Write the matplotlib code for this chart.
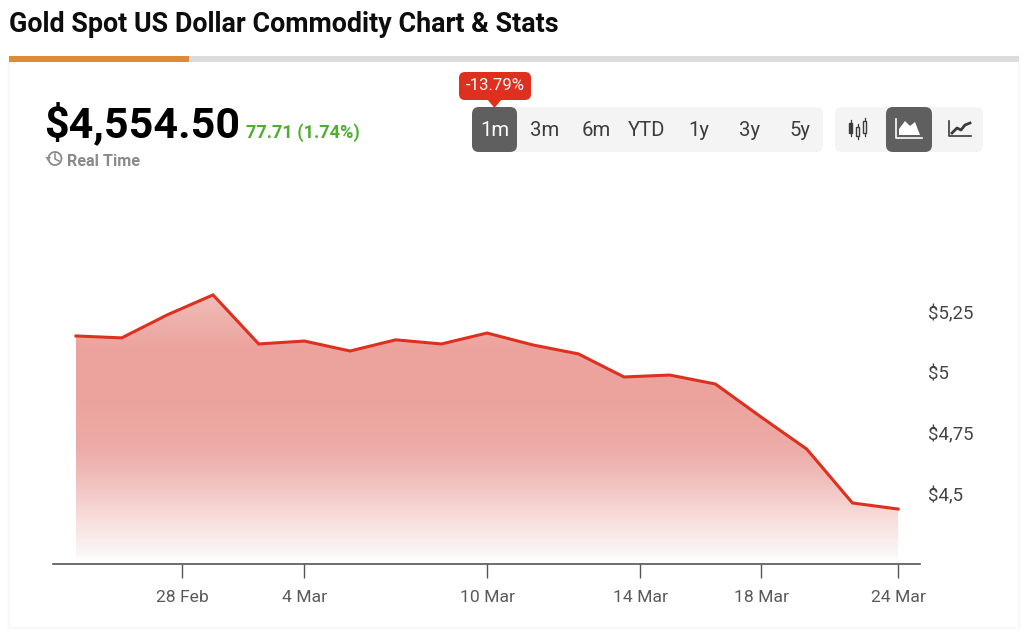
import numpy as np
import matplotlib
matplotlib.use("Agg")
import matplotlib.pyplot as plt
from matplotlib.colors import LinearSegmentedColormap
from matplotlib.patches import FancyBboxPatch, Rectangle, Polygon, Arc

plt.rcParams['font.family'] = ['Roboto', 'DejaVu Sans']

# values (in thousands of dollars)
prices = [5.151, 5.143, 5.238, 5.320, 5.118, 5.130, 5.089, 5.135, 5.118, 5.163,
          5.114, 5.077, 4.982, 4.990, 4.953, 4.817, 4.685, 4.463, 4.438]
date_ticks = [2.32, 5, 9, 12.35, 15, 18]
date_labels = ['28 Feb', '4 Mar', '10 Mar', '14 Mar', '18 Mar', '24 Mar']
price_ticks = [4.5, 4.75, 5, 5.25]
price_labels = ['$4,5', '$4,75', '$5', '$5,25']
ranges = ['1m', '3m', '6m', 'YTD', '1y', '3y', '5y']

RED = '#df2f1f'
DARK = '#5f5f5f'
ICON = '#3c3c3c'

fig = plt.figure(figsize=(10.24, 6.37), dpi=100, facecolor='white')

# page furniture, in pixel coordinates
ui = fig.add_axes([0, 0, 1, 1])
ui.set_xlim(0, 1024)
ui.set_ylim(637, 0)
ui.axis('off')


def rbox(x, y, w, h, color, r=7, z=2):
    ui.add_patch(FancyBboxPatch((x + r, y + r), w - 2 * r, h - 2 * r,
                                boxstyle=f'round,pad={r},rounding_size={r}',
                                fc=color, ec='none', zorder=z))


# card with soft shadow
for grow, col in [(3, '#fcfcfc'), (2, '#fafafa'), (1, '#f7f7f7')]:
    ui.add_patch(Rectangle((10 - grow, 55), 1008 + 2 * grow, 572 + grow, fc=col, ec='none', zorder=0))
ui.add_patch(Rectangle((10, 55), 1008, 572, fc='white', ec='none', zorder=1))
ui.add_patch(Rectangle((9, 56), 1010, 6, fc='#dcdcdc', ec='none', zorder=2))
ui.add_patch(Rectangle((9, 56), 180, 6, fc='#e08a33', ec='none', zorder=3))

ui.text(9, 24.5, 'Gold Spot US Dollar Commodity Chart & Stats', fontsize=19.4, fontweight='bold',
        color='#0d0d0d', va='center', ha='left')
ui.text(44, 124, '$4,554.50', fontsize=31, fontweight='bold', color='black', va='center', ha='left')
ui.text(246, 133, '77.71 (1.74%)', fontsize=13.1, fontweight='bold', color='#4fae32', va='center', ha='left')
ui.text(67, 161, 'Real Time', fontsize=11.6, fontweight='bold', color='#8a8a8a', va='center', ha='left')

# history icon
ui.add_patch(Arc((55, 158.5), 13, 13, theta1=-200, theta2=160, lw=1.3, color='#8a8a8a', zorder=3))
ui.plot([55, 55, 59], [154, 159, 161], color='#8a8a8a', lw=1.1, zorder=3)
ui.add_patch(Polygon([[45.5, 157], [51, 157], [48, 161]], fc='#8a8a8a', ec='none', zorder=3))

# range buttons
rbox(472, 107, 351, 45, '#f4f4f4')
rbox(472, 107, 45, 45, DARK, z=3)
range_x = [495, 545, 596, 647, 699, 750, 800]
for i, (lab, x) in enumerate(zip(ranges, range_x)):
    ui.text(x, 130, lab, fontsize=14.6, color='white' if i == 0 else ICON,
            va='center', ha='center', zorder=4)

# red badge
rbox(459, 72, 72, 28, RED, r=6, z=4)
ui.add_patch(Polygon([[487, 99], [502, 99], [494.5, 108]], fc=RED, ec='none', zorder=4))
ui.text(495, 86, '-13.79%', fontsize=12.1, color='white', va='center', ha='center', zorder=5)

# chart type buttons
rbox(835, 107, 148, 45, '#f4f4f4')
rbox(886, 107, 46, 45, DARK, z=3)
for x, lo, hi, top, bot, fill in [(850.7, 123, 133, 120, 136, ICON), (857.7, 127, 136, 124, 139, '#f4f4f4'),
                                  (864.7, 121, 133, 118, 136, '#f4f4f4')]:
    ui.plot([x, x], [top, bot], color=ICON, lw=0.9, zorder=4)
    ui.add_patch(Rectangle((x - 1.5, lo), 3, hi - lo, fc=fill, ec=ICON, lw=1, zorder=5))
ui.plot([896, 896, 922], [119, 138, 138], color='white', lw=1.2, zorder=4)
ui.add_patch(Polygon([[899, 135], [899, 129], [905, 121], [910, 126], [915, 122], [920, 135]],
                     fc='white', ec='none', zorder=4))
ui.plot([949, 949, 971], [121, 136, 136], color=ICON, lw=1.2, zorder=4)
ui.plot([952, 957, 961, 965, 970], [133, 128, 130, 125, 123], color=ICON, lw=2, zorder=4)

# price chart
ax = fig.add_axes([53 / 1024, 1 - 564 / 637, (920 - 53) / 1024, (564 - 200) / 637])
ax.patch.set_alpha(0)
idx = np.arange(len(prices))
ymin, ymax = 4.2116, 5.711
base = 4.22
ax.set_xlim(-0.504, 18.48)
ax.set_ylim(ymin, ymax)

# vertical gradient under the line
cmap = LinearSegmentedColormap.from_list('fade', [
    (0.0, '#ffffff'), (0.045, '#faf3f3'), (0.17, '#f7dcda'), (0.30, '#f1c0bd'),
    (0.42, '#edaca7'), (0.61, '#eca39d'), (0.80, '#eca39d'), (1.0, '#efbdb9')])
img = ax.imshow(np.linspace(1, 0, 256).reshape(-1, 1), cmap=cmap, vmin=0, vmax=1, aspect='auto',
                extent=[idx[0], idx[-1], base, max(prices)], zorder=1)
clip = Polygon(list(zip(idx, prices)) + [(idx[-1], base), (idx[0], base)], transform=ax.transData,
               fc='none', ec='none')
ax.add_patch(clip)
img.set_clip_path(clip)
ax.set_xlim(-0.504, 18.48)
ax.set_ylim(ymin, ymax)

ax.plot(idx, prices, color=RED, lw=2.2, zorder=3, solid_joinstyle='miter')

for side in ['top', 'left', 'right']:
    ax.spines[side].set_visible(False)
ax.spines['bottom'].set_color('#555555')
ax.spines['bottom'].set_linewidth(1.2)

ax.set_xticks(date_ticks)
ax.set_xticklabels(date_labels, fontsize=12.6, color='#5a5a5a')
ax.tick_params(axis='x', length=10, width=1, color='#555555', pad=8.5)
ax.yaxis.tick_right()
ax.set_yticks(price_ticks)
ax.set_yticklabels(price_labels, fontsize=13.4, color='#444444')
ax.tick_params(axis='y', length=0, pad=5.5)

fig.savefig('out.png', dpi=100)
